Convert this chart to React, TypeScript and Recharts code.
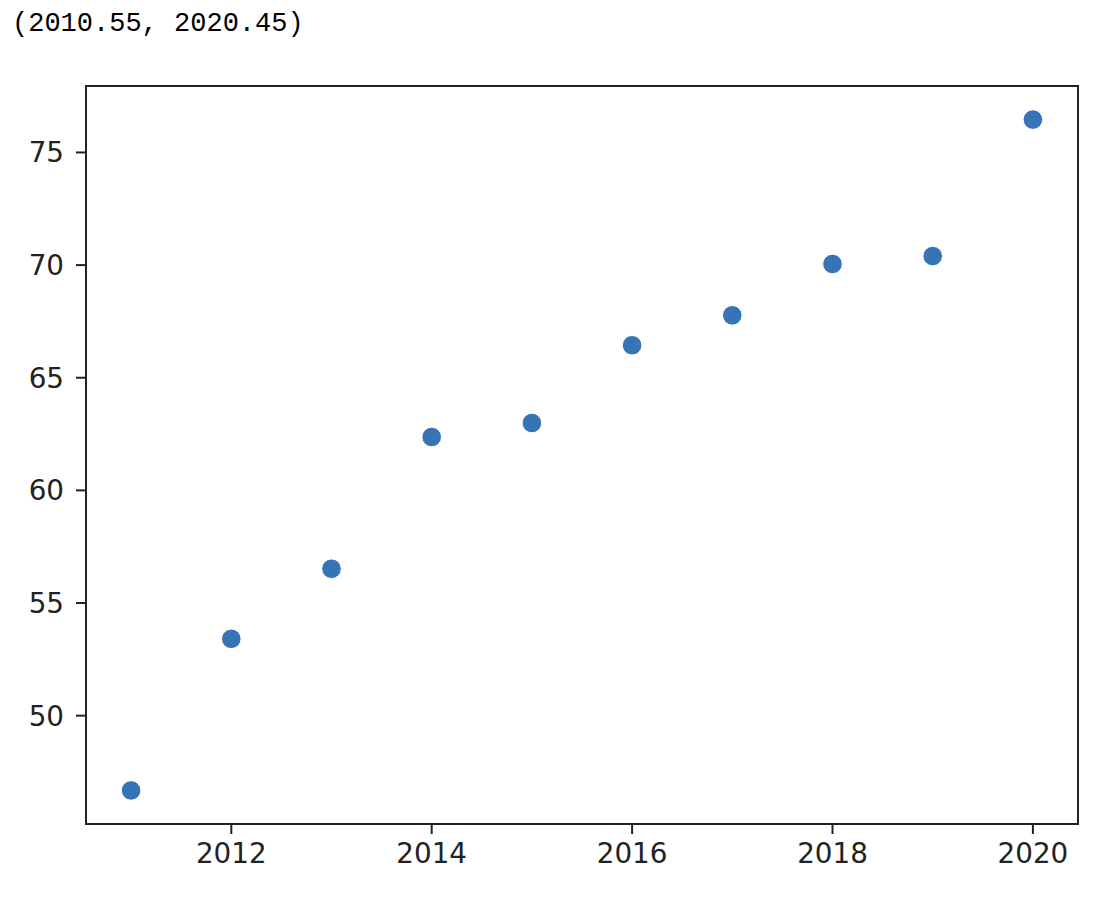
import React from 'react'
import { ScatterChart, Scatter, XAxis, YAxis, ReferenceArea } from 'recharts'

const years = [2011, 2012, 2013, 2014, 2015, 2016, 2017, 2018, 2019, 2020]
const values = [46.68, 53.41, 56.52, 62.37, 62.99, 66.44, 67.77, 70.05, 70.4, 76.46]
const xTicks = [2012, 2014, 2016, 2018, 2020]
const yTicks = [50, 55, 60, 65, 70, 75]
const xLimits = [2010.55, 2020.45]
const yLimits = [45.19, 77.95]

const data = years.map((year, i) => ({ year, value: values[i] }))

const tickStyle = { fontSize: 27.8, fill: '#222', fontFamily: '"DejaVu Sans", sans-serif' }

export default function App() {
  return (
    <div style={{ position: 'absolute', left: 0, top: 0, width: 1114, height: 902, background: '#fff' }}>
      <div
        style={{
          position: 'absolute',
          left: 12,
          top: 11,
          fontFamily: '"Liberation Mono", monospace',
          fontSize: 27,
          lineHeight: '27px',
          color: '#000',
          whiteSpace: 'pre',
        }}
      >
        (2010.55, 2020.45)
      </div>
      <ScatterChart width={1114} height={902} margin={{ top: 86, right: 36, bottom: 36, left: 6 }}>
        <XAxis
          type="number"
          dataKey="year"
          domain={xLimits}
          ticks={xTicks}
          allowDataOverflow
          height={42}
          tickSize={10}
          tickMargin={9}
          tick={tickStyle}
          stroke="#222"
          strokeWidth={2}
          tickLine={{ stroke: '#222', strokeWidth: 2 }}
        />
        <YAxis
          type="number"
          dataKey="value"
          domain={yLimits}
          ticks={yTicks}
          allowDataOverflow
          width={80}
          tickSize={10}
          tickMargin={12}
          tick={tickStyle}
          stroke="#222"
          strokeWidth={2}
          tickLine={{ stroke: '#222', strokeWidth: 2 }}
        />
        <ReferenceArea
          x1={xLimits[0]}
          x2={xLimits[1]}
          y1={yLimits[0]}
          y2={yLimits[1]}
          fill="none"
          stroke="#222"
          strokeWidth={2}
          ifOverflow="visible"
        />
        <Scatter
          data={data}
          fill="#3674b5"
          isAnimationActive={false}
          shape={(props: any) => (
            <circle cx={props.cx} cy={props.cy} r={9.8} fill="#3674b5" stroke="#fff" strokeWidth={1} />
          )}
        />
      </ScatterChart>
    </div>
  )
}
